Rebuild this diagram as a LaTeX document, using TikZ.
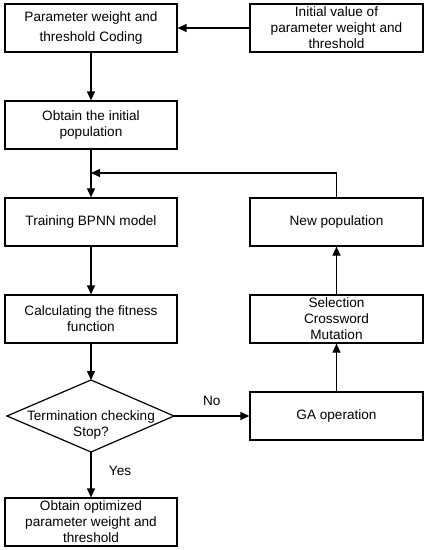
\documentclass[tikz,border=0pt]{standalone}
\usepackage{fontspec}
\setmainfont{Liberation Sans}
\usetikzlibrary{arrows.meta,shapes.geometric}
\begin{document}
\begin{tikzpicture}[x=1pt,y=-1pt,
  every node/.style={font=\fontsize{13.6pt}{16pt}\selectfont},
  box/.style={draw,line width=1.2pt,minimum width=172pt,minimum height=48pt,align=center,inner sep=1pt},
  arr/.style={line width=1.2pt,-{Triangle[length=9pt,width=8pt]}},
  ln/.style={line width=1.2pt}]
\useasboundingbox (0,0) rectangle (426,550);
\node[box,font=\fontsize{13.6pt}{20pt}\selectfont] (code) at (91,28) {Parameter weight and\\threshold Coding};
\node[box,minimum width=173pt] (init) at (336.5,28) {Initial value of\\parameter weight and\\threshold};
\node[box] (obtain) at (91,125) {Obtain the initial\\population};
\node[box] (train) at (91,222) {Training BPNN model};
\node[box,minimum width=173pt] (newpop) at (336.5,222) {New  population};
\node[box] (calc) at (91,319) {Calculating  the fitness\\function};
\node[box,minimum width=173pt] (sel) at (336.5,319) {Selection\\Crossword\\Mutation};
\coordinate (dt) at (91,380);
\coordinate (db) at (91,452);
\coordinate (dl) at (7,416);
\coordinate (dr) at (174,416);
\draw[ln,line join=miter] (dt) -- (dr) -- (db) -- (dl) -- cycle;
\node[align=center] (term) at (91,425) {Termination checking\\Stop?};
\node[box,minimum width=173pt] (ga) at (336.5,416) {GA operation};
\node[box] (final) at (91,522) {Obtain optimized\\parameter weight and\\threshold};
\coordinate (merge) at (91,173);
\draw[arr] (init.west) -- (code.east);
\draw[arr] (code) -- (obtain);
\draw[ln] (obtain) -- (merge);
\draw[arr] (merge) -- (train);
\draw[arr] (newpop.north) |- (merge);
\draw[arr] (train) -- (calc);
\draw[arr] (calc) -- (dt);
\draw[arr] (dr) -- (ga.west) node[pos=0.5,above=6pt] (no) {No};
\draw[arr] (ga) -- (sel);
\draw[arr] (sel) -- (newpop);
\draw[arr] (db) -- (final) node[pos=0.42,right=14pt] (yes) {Yes};
\end{tikzpicture}
\end{document}
